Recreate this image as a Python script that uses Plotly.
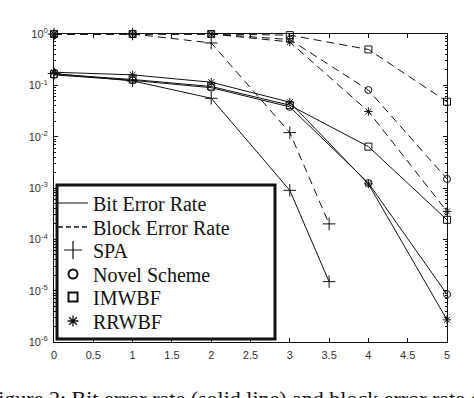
import plotly.graph_objects as go

# ---- data ----
ebn0 = [0, 1, 2, 3, 4, 5]
ebn0_spa = [0, 1, 2, 3, 3.5]

spa_bit = [0.17, 0.122, 0.056, 9.0e-4, 1.5e-5]
spa_block = [1.0, 1.0, 0.67, 0.012, 2.0e-4]

novel_bit = [0.16, 0.125, 0.09, 0.038, 1.25e-3, 8.5e-6]
novel_block = [1.0, 1.0, 1.0, 0.78, 0.081, 1.5e-3]

imwbf_bit = [0.165, 0.13, 0.095, 0.041, 6.4e-3, 2.4e-4]
imwbf_block = [1.0, 1.0, 1.0, 0.95, 0.5, 0.048]

rrwbf_bit = [0.18, 0.16, 0.115, 0.047, 1.2e-3, 2.7e-6]
rrwbf_block = [1.0, 1.0, 1.0, 0.70, 0.031, 3.5e-4]

x_ticks = [0, 0.5, 1, 1.5, 2, 2.5, 3, 3.5, 4, 4.5, 5]
x_ticklabels = ["0", "0.5", "1", "1.5", "2", "2.5", "3", "3.5", "4", "4.5", "5"]
y_ticks = [1, 1e-1, 1e-2, 1e-3, 1e-4, 1e-5, 1e-6]
y_ticklabels = ["10<sup>0</sup>", "10<sup>-1</sup>", "10<sup>-2</sup>", "10<sup>-3</sup>",
                "10<sup>-4</sup>", "10<sup>-5</sup>", "10<sup>-6</sup>"]
legend_labels = ["Bit Error Rate", "Block Error Rate", "SPA", "Novel Scheme", "IMWBF", "RRWBF"]
caption = "Figure 2: Bit error rate (solid line) and block error rate of"

minor_y = [m * 10.0 ** k for k in range(-6, 0) for m in range(2, 10)]

INK = "#111111"
DASH = "8px,5px"

series = [
    (ebn0_spa, spa_bit, spa_block, "cross-thin-open", 9),
    (ebn0, novel_bit, novel_block, "circle-open", 7),
    (ebn0, imwbf_bit, imwbf_block, "square-open", 7),
    (ebn0, rrwbf_bit, rrwbf_block, "asterisk-open", 7),
]

fig = go.Figure()
for xs, bit, blk, sym, sz in series:
    for ys, dash in ((bit, "solid"), (blk, DASH)):
        fig.add_trace(go.Scatter(
            x=xs, y=ys, mode="lines+markers", showlegend=False,
            line=dict(color=INK, width=1, dash=dash),
            marker=dict(symbol=sym, size=sz, color=INK, line=dict(color=INK, width=1)),
            cliponaxis=False, hoverinfo="skip"))

# legend entries (one per legend so row spacing matches)
legend_specs = [
    dict(mode="lines", line=dict(color=INK, width=1)),
    dict(mode="lines", line=dict(color=INK, width=1.3, dash="5px,3px")),
    dict(mode="markers", marker=dict(symbol="cross-thin-open", size=13, color=INK, line=dict(color=INK, width=1.2))),
    dict(mode="markers", marker=dict(symbol="circle-open", size=9, color=INK, line=dict(color=INK, width=2))),
    dict(mode="markers", marker=dict(symbol="square-open", size=9, color=INK, line=dict(color=INK, width=2))),
    dict(mode="markers", marker=dict(symbol="asterisk-open", size=9, color=INK, line=dict(color=INK, width=1.3))),
]
row_px = [203, 227, 250, 274, 297, 321]
plot_top, plot_bottom, plot_left, plot_right = 34, 342, 54, 447
ph = plot_bottom - plot_top
pw = plot_right - plot_left

legend_layouts = {}
for i, (name, spec) in enumerate(zip(legend_labels, legend_specs)):
    key = "legend" if i == 0 else f"legend{i + 1}"
    fig.add_trace(go.Scatter(x=[None], y=[None], name=name, showlegend=True,
                             legend=key, hoverinfo="skip", **spec))
    legend_layouts[key] = dict(
        x=(53 - plot_left) / pw, xanchor="left",
        y=(plot_bottom - row_px[i]) / ph, yanchor="middle",
        bgcolor="rgba(0,0,0,0)", borderwidth=0,
        font=dict(family="Liberation Serif", size=20, color=INK),
        itemclick=False, itemdoubleclick=False,
    )

fig.update_layout(
    width=474, height=398,
    margin=dict(l=plot_left, r=474 - plot_right, t=plot_top, b=398 - plot_bottom),
    paper_bgcolor="white", plot_bgcolor="white",
    font=dict(family="Liberation Sans", size=11, color="#333333"),
    shapes=[dict(type="rect", xref="paper", yref="paper",
                 x0=(57 - plot_left) / pw, x1=(275 - plot_left) / pw,
                 y0=(plot_bottom - 339) / ph, y1=(plot_bottom - 185) / ph,
                 line=dict(color=INK, width=3), fillcolor="white", layer="above")],
    annotations=[dict(text=caption, xref="paper", yref="paper",
                      x=(-16 - plot_left) / pw, xanchor="left",
                      y=(plot_bottom - 384) / ph, yanchor="top",
                      showarrow=False,
                      font=dict(family="Liberation Serif", size=22, color=INK))],
    **legend_layouts,
)

fig.update_xaxes(range=[0, 5], tickvals=x_ticks, ticktext=x_ticklabels,
                 ticks="inside", ticklen=4, tickcolor=INK, showline=True, linecolor=INK,
                 linewidth=1, mirror="ticks", showgrid=False, zeroline=False,
                 ticklabelstandoff=3)
fig.update_yaxes(type="log", range=[-6, 0], tickvals=y_ticks, ticktext=y_ticklabels,
                 ticks="inside", ticklen=4, tickcolor=INK, showline=True, linecolor=INK,
                 linewidth=1, mirror="ticks", showgrid=False, zeroline=False,
                 ticklabelstandoff=3,
                 minor=dict(tickvals=minor_y, ticks="inside", ticklen=2, tickcolor=INK,
                            showgrid=False))

fig.write_html("out.html", config={"displayModeBar": False},
               post_script="document.body.style.margin='0px';")
